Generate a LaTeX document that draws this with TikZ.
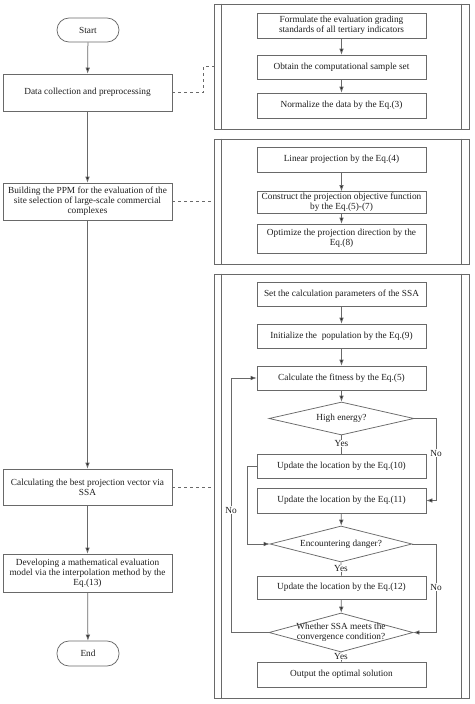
\documentclass[tikz,border=0pt]{standalone}
\usepackage{fontspec}
\setmainfont{Liberation Serif}
\usetikzlibrary{arrows.meta,shapes.geometric,calc}
\definecolor{lg}{RGB}{105,105,105}
\definecolor{tx}{RGB}{30,30,30}
\begin{document}
\begin{tikzpicture}[x=1pt,y=-1pt,
  ln/.style={draw=lg, line width=0.75pt},
  box/.style={draw=lg, line width=0.75pt, minimum width=169pt, inner sep=1pt, align=center, text=tx, font=\fontsize{9.3}{10}\selectfont},
  term/.style={box, rounded corners=12pt, minimum width=62pt, minimum height=24pt},
  panel/.style={draw=lg, line width=0.75pt, minimum width=255pt, inner sep=0pt},
  dia/.style={diamond, draw=lg, line width=0.75pt, inner sep=0pt, minimum width=144pt, minimum height=36pt},
  dtext/.style={align=center, text=tx, inner sep=0pt, font=\fontsize{9.3}{10}\selectfont},
  lbl/.style={fill=white, inner sep=0.8pt, text=tx, font=\fontsize{9.3}{10}\selectfont},
  arr/.style={ln, -{Latex[length=6pt,width=4.6pt,fill=tx]}}
]
\useasboundingbox[fill=white] (0,0) rectangle (474,704);

% left column
\node[term] (start) at (88,30) {Start};
\node[box, minimum height=37pt] (data) at (87.5,92.5) {Data collection and preprocessing};
\node[box, minimum height=37pt] (build) at (87.5,201.5) {Building the PPM for the evaluation of the\\site selection of large-scale commercial\\complexes};
\node[box, minimum height=36pt] (calc) at (87.5,487) {Calculating the best projection vector via\\SSA};
\node[box, minimum height=38pt] (dev) at (87.5,573) {Developing a mathematical evaluation\\model via the interpolation method by the\\Eq.(13)};
\node[term, minimum height=25pt] (end) at (88,653.5) {End};

\draw[arr] (start) -- (data);
\draw[arr] (data) -- (build);
\draw[arr] (build) -- (calc);
\draw[arr] (calc) -- (dev);
\draw[arr] (dev) -- (end);

% panels
\node[panel, minimum height=125pt] (P1) at (341.5,66.5) {};
\node[panel, minimum height=125pt] (P2) at (341.5,201.5) {};
\node[panel, minimum height=424pt] (P3) at (341.5,486) {};
\foreach \p in {P1,P2,P3}{
  \draw[ln] ($(\p.north west)+(8,0)$) -- ($(\p.south west)+(8,0)$);
  \draw[ln] ($(\p.north east)+(-8,0)$) -- ($(\p.south east)+(-8,0)$);
}

\draw[ln, dashed] (data.east) -- ++(31,0) |- (P1.west);
\draw[ln, dashed] (build.east) -- (P2.west);
\draw[ln, dashed] (calc.east) -- (calc.east -| P3.west);

% panel 1
\node[box, minimum height=25pt] (f1) at (341.5,25.5) {Formulate the evaluation grading\\standards of all tertiary indicators};
\node[box, minimum height=24pt] (f2) at (341.5,67) {Obtain the computational sample set};
\node[box, minimum height=25pt] (f3) at (341.5,105.5) {Normalize the data by the Eq.(3)};
\draw[arr] (f1) -- (f2);
\draw[arr] (f2) -- (f3);

% panel 2
\node[box, minimum height=25pt] (g1) at (341.5,159.5) {Linear projection by the Eq.(4)};
\node[box, minimum height=22pt] (g2) at (341.5,202.5) {Construct the projection objective function\\by the Eq.(5)-(7)};
\node[box, minimum height=29pt] (g3) at (341.5,238.5) {Optimize the projection direction by the\\Eq.(8)};
\draw[arr] (g1) -- (g2);
\draw[arr] (g2) -- (g3);

% panel 3
\node[box, minimum height=24pt] (s1) at (341.5,294) {Set the calculation parameters of the SSA};
\node[box, minimum height=24pt] (s2) at (341.5,336) {Initialize the\ \ population by the Eq.(9)};
\node[box, minimum height=24pt] (s3) at (341.5,378) {Calculate the fitness by the Eq.(5)};
\node[dia, minimum width=145pt, minimum height=33pt] (d1) at (341.5,418.5) {};
\node[dtext] (d1t) at (d1) {High energy?};
\node[box, minimum height=24pt] (s4) at (341.5,466) {Update the location by the Eq.(10)};
\node[box, minimum height=25pt] (s5) at (341.5,500.5) {Update the location by the Eq.(11)};
\node[dia, minimum width=142pt, minimum height=36pt] (d2) at (341,544) {};
\node[dtext] (d2t) at (d2) {Encountering danger?};
\node[box, minimum height=23pt] (s6) at (341.5,587.5) {Update the location by the Eq.(12)};
\node[dia, minimum width=144pt, minimum height=39pt] (d3) at (341,632.5) {};
\node[dtext] (d3t) at (d3) {Whether SSA meets the\\convergence condition?};
\node[box, minimum height=25pt] (s7) at (341.5,674.5) {Output the optimal solution};

\coordinate (n1) at (436,418.5);
\coordinate (n2) at (247,466);
\coordinate (n3) at (436,544);
\coordinate (n4) at (231,632.5);

\draw[arr] (s1) -- (s2);
\draw[arr] (s2) -- (s3);
\draw[arr] (s3) -- (d1);
\draw[ln] (d1.south) -- (s4.north);
\draw[arr] (d1.east) -- (n1) |- (s5.east);
\draw[arr] (s4.west) -- (n2) |- (d2.west);
\draw[arr] (s5) -- (d2);
\draw[ln] (d2.south) -- (s6.north);
\draw[arr] (d2.east) -- (n3) |- (d3.east);
\draw[arr] (s6) -- (d3);
\draw[arr] (d3.west) -- (n4) |- (s3.west);
\draw[ln] (d3.south) -- (s7.north);

\node[lbl] (y1) at (341.5,443.5) {Yes};
\node[lbl] (y2) at (341,568.5) {Yes};
\node[lbl] (y3) at (341,656.5) {Yes};
\node[lbl] (no1) at (436,453) {No};
\node[lbl] (no2) at (436,587) {No};
\node[lbl] (no3) at (231,510) {No};
\end{tikzpicture}
\end{document}
